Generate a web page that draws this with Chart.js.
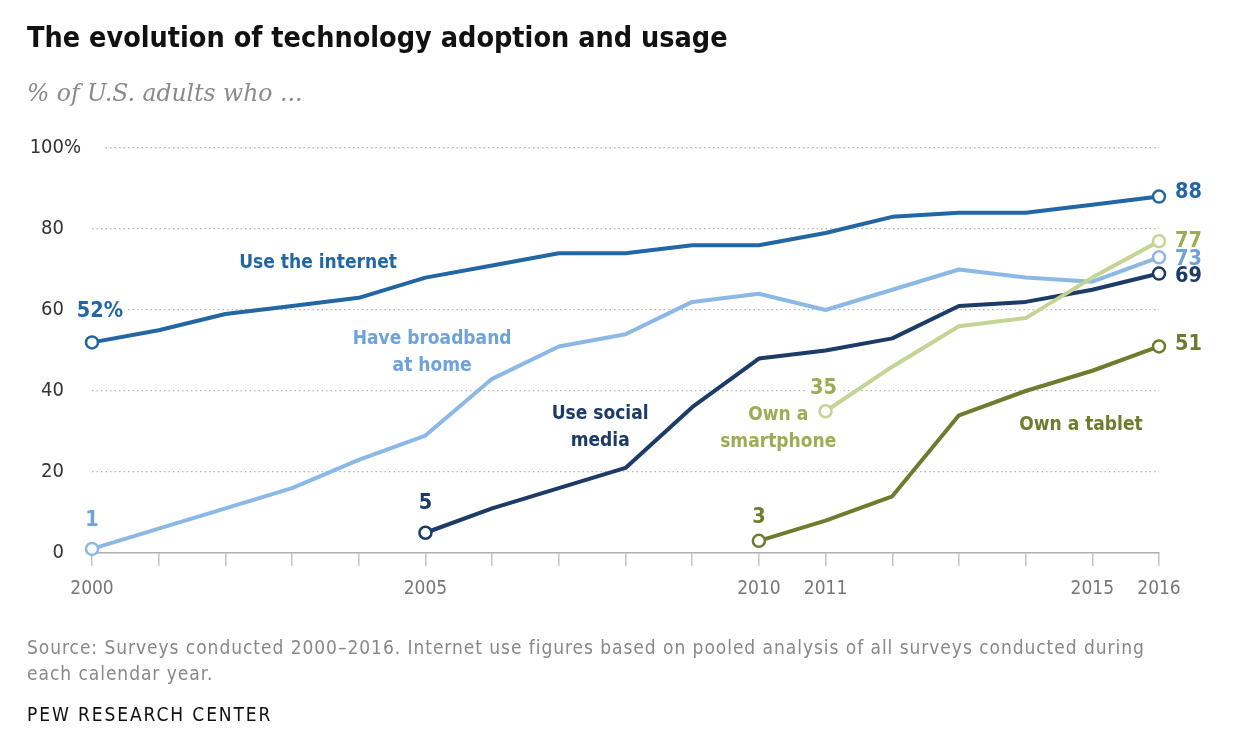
<!DOCTYPE html>
<html>
<head>
<meta charset="utf-8">
<script src="https://cdn.jsdelivr.net/npm/chart.js@4.4.1/dist/chart.umd.min.js"></script>
<style>
  html, body { margin: 0; padding: 0; background: #fff; }
  #wrap { position: relative; width: 1236px; height: 738px; overflow: hidden; }
  #chart { position: absolute; left: 0; top: 0; }
  .txt { position: absolute; left: 27px; white-space: nowrap; }
  #title { top: 21px; font: bold 28.5px "DejaVu Sans Condensed", sans-serif; color: #111; }
  #subtitle { top: 79px; font: italic 23.5px "DejaVu Serif", serif; color: #8a8a8a; }
  #source { top: 634px; font: 19px "DejaVu Sans Condensed", sans-serif; letter-spacing: 0.95px; color: #888; line-height: 26px; }
  #credit { top: 703px; font: 19px "DejaVu Sans Condensed", sans-serif; letter-spacing: 1.9px; color: #111; }
</style>
</head>
<body>
<div id="wrap">
  <canvas id="chart" width="1236" height="738"></canvas>
  <div id="title" class="txt">The evolution of technology adoption and usage</div>
  <div id="subtitle" class="txt">% of U.S. adults who ...</div>
  <div id="source" class="txt">Source: Surveys conducted 2000–2016. Internet use figures based on pooled analysis of all surveys conducted during<br>each calendar year.</div>
  <div id="credit" class="txt">PEW RESEARCH CENTER</div>
</div>
<script>
const FONT = '"DejaVu Sans Condensed", sans-serif';

const years = [2000, 2001, 2002, 2003, 2004, 2005, 2006, 2007, 2008, 2009, 2010, 2011, 2012, 2013, 2014, 2015, 2016];
const internet = [52, 55, 59, 61, 63, 68, 71, 74, 74, 76, 76, 79, 83, 84, 84, 86, 88];
const broadband = [1, 6, 11, 16, 23, 29, 43, 51, 54, 62, 64, 60, 65, 70, 68, 67, 73];
const socialYears = [2005, 2006, 2007, 2008, 2009, 2010, 2011, 2012, 2013, 2014, 2015, 2016];
const socialMedia = [5, 11, 16, 21, 36, 48, 50, 53, 61, 62, 65, 69];
const smartphoneYears = [2011, 2012, 2013, 2014, 2015, 2016];
const smartphone = [35, 46, 56, 58, 68, 77];
const tabletYears = [2010, 2011, 2012, 2013, 2014, 2015, 2016];
const tablet = [3, 8, 14, 34, 40, 45, 51];

const yTicks = [0, 20, 40, 60, 80, 100];
const xLabelYears = [2000, 2005, 2010, 2011, 2015, 2016];

const colors = {
  internet: "#2266a4",
  broadband: "#8cb8e6",
  broadbandText: "#6ea2da",
  social: "#1c3b66",
  smartphone: "#c3d495",
  smartphoneText: "#9bad54",
  tablet: "#6d7c2d"
};

function points(xs, ys) {
  return xs.map((x, i) => ({ x: x, y: ys[i] }));
}

function series(label, xs, ys, color) {
  return {
    label: label,
    data: points(xs, ys),
    clip: false,
    borderColor: color,
    borderWidth: 4,
    borderJoinStyle: "round",
    borderCapStyle: "round",
    tension: 0,
    pointBackgroundColor: "#fff",
    pointBorderColor: color,
    pointBorderWidth: 2.5,
    pointRadius: ctx => (ctx.dataIndex === 0 || ctx.dataIndex === xs.length - 1) ? 6 : 0
  };
}

// text notes placed in data coordinates
const notes = [
  { lines: ["Use the internet"], x: 2003.39, y: 71.6, color: colors.internet },
  { lines: ["Have broadband", "at home"], x: 2005.1, y: 52.8, color: colors.broadbandText },
  { lines: ["Use social", "media"], x: 2007.62, y: 34.3, color: colors.social },
  { lines: ["Own a", "smartphone"], x: 2010.29, y: 34.0, color: colors.smartphoneText },
  { lines: ["Own a tablet"], x: 2014.83, y: 31.6, color: colors.tablet }
];

// end point value labels: [text, year, value, color, align, dx, dy]
const endLabels = [
  ["52%", 2000, 52, colors.internet, "center", 8, -31],
  ["1", 2000, 1, colors.broadbandText, "center", 0, -29],
  ["5", 2005, 5, colors.social, "center", 0, -29],
  ["3", 2010, 3, colors.tablet, "center", 0, -23],
  ["35", 2011, 35, colors.smartphoneText, "center", -2, -23],
  ["88", 2016, 88, colors.internet, "left", 16, -4],
  ["77", 2016, 77, colors.smartphoneText, "left", 16, 0],
  ["73", 2016, 73, colors.broadbandText, "left", 16, 2],
  ["69", 2016, 69, colors.social, "left", 16, 3],
  ["51", 2016, 51, colors.tablet, "left", 16, -2]
];

const labelPlugin = {
  id: "labels",
  beforeDatasetsDraw(chart) {
    const { ctx, scales: { x, y } } = chart;
    ctx.save();
    ctx.textBaseline = "middle";

    // y axis labels, numbers right aligned and the % hanging out
    ctx.font = "20px " + FONT;
    ctx.fillStyle = "#333";
    yTicks.forEach(v => {
      const py = y.getPixelForValue(v);
      ctx.textAlign = "right";
      ctx.fillText(String(v), 64, py);
      if (v === 100) {
        ctx.textAlign = "left";
        ctx.fillText("%", 64, py);
        ctx.fillStyle = "#fff";
        ctx.fillRect(86, py - 3, 17, 6);
        ctx.fillStyle = "#333";
      }
    });

    ctx.font = "bold 19px " + FONT;
    notes.forEach(n => {
      const px = x.getPixelForValue(n.x);
      const py = y.getPixelForValue(n.y);
      ctx.textAlign = "center";
      ctx.fillStyle = n.color;
      n.lines.forEach((t, i) => ctx.fillText(t, px, py + i * 27));
    });

    ctx.font = "bold 21.5px " + FONT;
    endLabels.forEach(([t, yr, v, c, align, dx, dy]) => {
      const px = x.getPixelForValue(yr) + dx;
      const py = y.getPixelForValue(v) + dy;
      const w = ctx.measureText(t).width;
      const left = align === "center" ? px - w / 2 : px;
      ctx.fillStyle = "#fff";
      ctx.fillRect(left - 3, py - 10, w + 6, 20);
      ctx.textAlign = align;
      ctx.fillStyle = c;
      ctx.fillText(t, px, py);
    });
    ctx.restore();
  }
};

new Chart(document.getElementById("chart"), {
  type: "line",
  data: {
    datasets: [
      series("Own a smartphone", smartphoneYears, smartphone, colors.smartphone),
      series("Use the internet", years, internet, colors.internet),
      series("Have broadband at home", years, broadband, colors.broadband),
      series("Use social media", socialYears, socialMedia, colors.social),
      series("Own a tablet", tabletYears, tablet, colors.tablet)
    ]
  },
  options: {
    responsive: false,
    animation: false,
    layout: { padding: { top: 148, right: 77, bottom: 125, left: 0 } },
    plugins: { legend: { display: false }, tooltip: { enabled: false } },
    scales: {
      x: {
        type: "linear",
        min: 2000,
        max: 2016,
        afterBuildTicks: s => { s.ticks = years.map(v => ({ value: v })); },
        afterFit: s => { s.height = 60; },
        grid: { drawOnChartArea: false, drawTicks: true, tickLength: 13, color: "#c4c4c4", lineWidth: 1.5 },
        border: { display: true, color: "#b0b0b0", width: 1.5 },
        ticks: {
          padding: 12,
          autoSkip: false,
          maxRotation: 0,
          color: "#777",
          font: { family: FONT, size: 19 },
          callback: v => xLabelYears.includes(v) ? String(v) : ""
        }
      },
      y: {
        min: 0,
        max: 100,
        afterBuildTicks: s => { s.ticks = yTicks.map(v => ({ value: v })); },
        afterFit: s => { s.width = 92; },
        grid: { drawTicks: false, color: "#b5b5b5", lineWidth: 1.2 },
        border: { display: false, dash: [1.5, 3] },
        ticks: { display: false }
      }
    }
  },
  plugins: [labelPlugin]
});
</script>
</body>
</html>
